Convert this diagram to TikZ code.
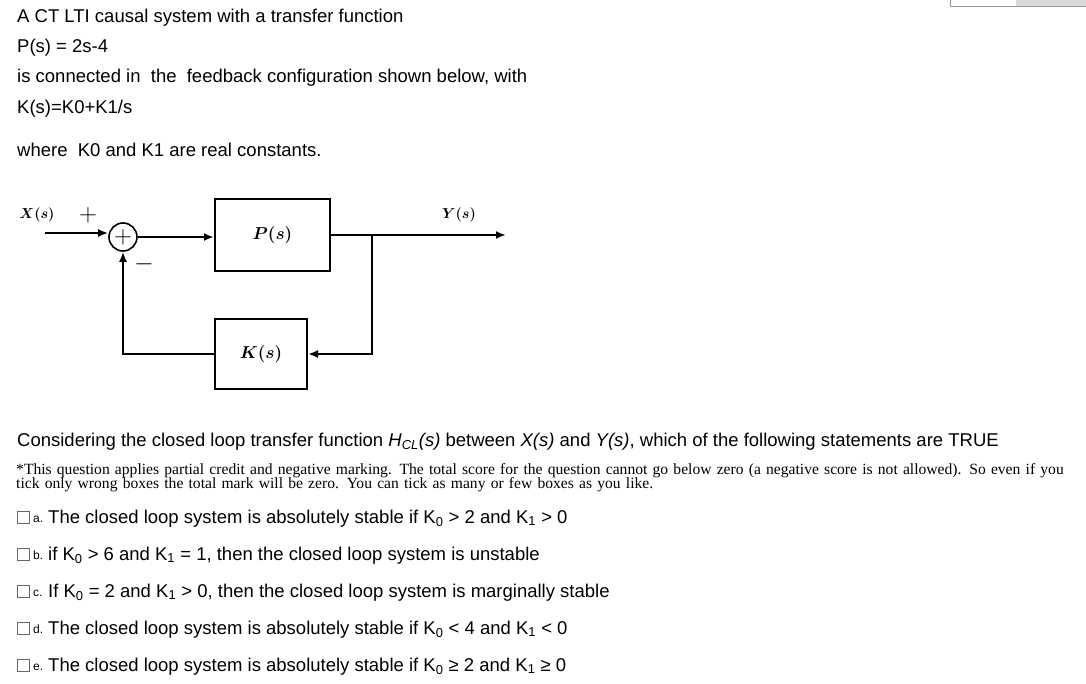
\documentclass[tikz,border=0pt]{standalone}
\usepackage{amsmath}
\usepackage{bm}
\usepackage{fontspec}
\setmainfont{Liberation Sans}
\newfontfamily\serifb{Liberation Serif}
\usetikzlibrary{arrows.meta}
\newcommand{\sub}[1]{\textsubscript{#1}}
\begin{document}
\begin{tikzpicture}[x=1pt,y=-1pt,
  txt/.style={anchor=base west,inner sep=0pt,font=\fontsize{18.5}{20}\selectfont},
  note/.style={anchor=north west,inner sep=0pt,text width=1068pt,
    font=\serifb\fontsize{15.6}{14.5}\selectfont},
  blk/.style={draw,line width=2pt,inner sep=0pt},
  sig/.style={line width=2pt},
  arr/.style={sig,-{Latex[length=10pt,width=8pt]}},
  lab/.style={inner sep=0pt,font=\fontsize{19}{22}\selectfont},
  box/.style={draw=black!60,line width=0.8pt,minimum size=12pt,inner sep=0pt}]
\useasboundingbox (0,0) rectangle (1086,684);
% corner widget
\fill[black!15] (1016,0) rectangle (1086,6);
\draw[black!40,line width=0.8pt] (950,-1) -- (950,6.5) -- (1086,6.5);
% header text
\node[txt] (t1) at (17,23) {A CT LTI causal system with a transfer function};
\node[txt] (t2) at (17,53) {P(s) = 2s-4};
\node[txt] (t3) at (17,83) {is connected in \ the \ feedback configuration shown below, with};
\node[txt] (t4) at (17,114) {K(s)=K0+K1/s};
\node[txt] (t5) at (17,157) {where \ K0 and K1 are real constants.};
% diagram
\node[blk,minimum width=115pt,minimum height=72pt] (P) at (272.5,235) {};
\node[lab] at (P) {$\bm{P(s)}$};
\node[blk,minimum width=92pt,minimum height=70pt] (K) at (261,354) {};
\node[lab] at (K) {$\bm{K(s)}$};
\node[draw,circle,line width=1.6pt,minimum size=28pt,inner sep=0pt] (S) at (123,237) {};
\node[font=\fontsize{30}{30}\selectfont,inner sep=0pt] at (123,237.5) {$+$};
\coordinate (in) at (45,233);
\coordinate (br) at (372,235);
\coordinate (out) at (506,235);
\node[lab,font=\fontsize{14}{16}\selectfont] (X) at (37,215) {$\bm{X(s)}$};
\node[lab,font=\fontsize{14}{16}\selectfont] (Y) at (459,215) {$\bm{Y(s)}$};
\node[font=\fontsize{24}{24}\selectfont,inner sep=0pt] (pl) at (88,215) {$+$};
\node[font=\fontsize{24}{24}\selectfont,inner sep=0pt] (mi) at (144,264) {$-$};
\draw[arr] (in) -- (S.west|-in);
\draw[arr] (S.east) -- (P.west|-S.east);
\draw[arr] (P.east|-br) -- (out);
\draw[arr] (br) |- (K.east);
\draw[arr] (K.west) -| (S.south);
% question text
\node[txt] (q) at (17,446) {Considering the closed loop transfer function \textit{H\sub{CL}(s)} between \textit{X(s)} and \textit{Y(s)}, which of the following statements are TRUE};
\node[note] (n) at (16,463) {*This question applies partial credit and negative marking. The total score for the question cannot go below zero (a negative score is not allowed). So even if you tick only wrong boxes the total mark will be zero. You can tick as many or few boxes as you like.};
\foreach \y/\l/\t in {
 517/a./{The closed loop system is absolutely stable if K\sub{0} > 2 and K\sub{1} > 0},
 554/b./{if K\sub{0} > 6 and K\sub{1} = 1, then the closed loop system is unstable},
 591/c./{If K\sub{0} = 2 and K\sub{1} > 0, then the closed loop system is marginally stable},
 628/d./{The closed loop system is absolutely stable if K\sub{0} < 4 and K\sub{1} < 0},
 665/e./{The closed loop system is absolutely stable if K\sub{0} ≥ 2 and K\sub{1} ≥ 0}} {
  \node[box] (c\l) at (23,\y) {};
  \node[anchor=base west,inner sep=0pt,font=\fontsize{12}{14}\selectfont] (l\l) at (33,\y+5) {\l};
  \node[txt] (s\l) at (48,\y+6) {\t};
}
\end{tikzpicture}
\end{document}
